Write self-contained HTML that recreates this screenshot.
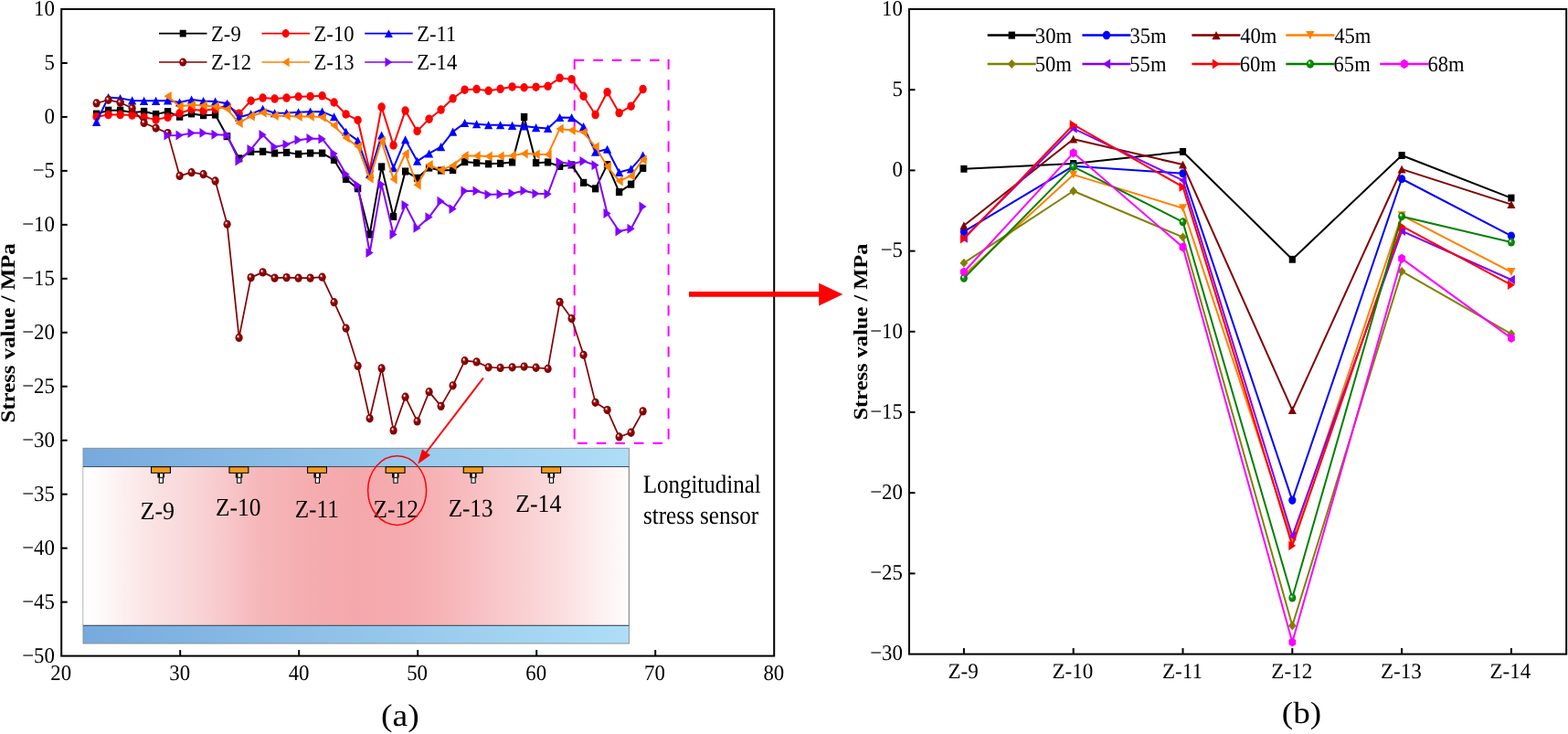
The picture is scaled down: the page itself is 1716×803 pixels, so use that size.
<!DOCTYPE html>
<html><head><meta charset="utf-8"><title>Stress value chart</title>
<style>html,body{margin:0;padding:0;background:#fff;}svg{display:block;text-rendering:geometricPrecision;}text{font-family:"Liberation Serif","Times New Roman",serif;}</style></head>
<body>
<svg width="1716" height="803" viewBox="0 0 1716 803">
<defs>
<radialGradient id="gball_800000" cx="0.5" cy="0.5" r="0.5" fx="0.33" fy="0.3"><stop offset="0" stop-color="#ffffff"/><stop offset="0.13" stop-color="#f8eeee"/><stop offset="0.38" stop-color="#a00c0c"/><stop offset="0.75" stop-color="#800000"/><stop offset="1" stop-color="#800000"/></radialGradient>
<radialGradient id="gball_008000" cx="0.5" cy="0.5" r="0.5" fx="0.33" fy="0.3"><stop offset="0" stop-color="#ffffff"/><stop offset="0.13" stop-color="#f8eeee"/><stop offset="0.38" stop-color="#159a15"/><stop offset="0.75" stop-color="#008000"/><stop offset="1" stop-color="#008000"/></radialGradient>
<linearGradient id="gbar" x1="0" y1="0" x2="1" y2="0"><stop offset="0" stop-color="#76AADD"/><stop offset="1" stop-color="#AEDEF7"/></linearGradient>
<linearGradient id="gpink" x1="0" y1="0" x2="1" y2="0"><stop offset="0.0000" stop-color="#ffffff"/><stop offset="0.0318" stop-color="#fefafa"/><stop offset="0.1172" stop-color="#fbe4e5"/><stop offset="0.1908" stop-color="#f9d8da"/><stop offset="0.2628" stop-color="#f8c7ca"/><stop offset="0.3214" stop-color="#f6b7ba"/><stop offset="0.4101" stop-color="#f5adb0"/><stop offset="0.5022" stop-color="#f4a8ac"/><stop offset="0.5892" stop-color="#f5abaf"/><stop offset="0.6779" stop-color="#f7b7ba"/><stop offset="0.7650" stop-color="#f9c8ca"/><stop offset="0.8236" stop-color="#fad3d5"/><stop offset="0.8822" stop-color="#fbdfe0"/><stop offset="0.9407" stop-color="#fdefef"/><stop offset="1.0000" stop-color="#fefcfc"/></linearGradient>
</defs>
<rect x="0" y="0" width="1716" height="803" fill="#ffffff"/>
<rect x="91.0" y="510.7" width="597.4" height="173.50000000000006" fill="url(#gpink)"/>
<line x1="90.7" y1="510.7" x2="90.7" y2="684.2" stroke="#c8c8c8" stroke-width="1.4"/>
<line x1="688.4" y1="510.7" x2="688.4" y2="684.2" stroke="#8c8c8c" stroke-width="1.2"/>
<rect x="91.0" y="490.3" width="597.4" height="20.399999999999977" fill="url(#gbar)" stroke="#8a8a8a" stroke-width="0.9"/>
<rect x="91.0" y="684.2" width="597.4" height="19.799999999999955" fill="url(#gbar)" stroke="#8a8a8a" stroke-width="0.9"/>
<line x1="91.0" y1="510.5" x2="688.4" y2="510.5" stroke="#3f5468" stroke-width="1"/>
<line x1="91.0" y1="684.4" x2="688.4" y2="684.4" stroke="#3f5468" stroke-width="1"/>
<rect x="165.00" y="510.3" width="22" height="7.6" fill="#000"/>
<rect x="166.10" y="511.3" width="19.8" height="5.6" fill="#F39A1E"/>
<rect x="172.40" y="517.9" width="7.5" height="4.8" fill="#000"/>
<rect x="175.00" y="518.2" width="3.1" height="3.6" fill="#fff"/>
<rect x="173.75" y="522.7" width="5.25" height="6.1" fill="#000"/>
<rect x="174.80" y="523.2" width="3.1" height="4.7" fill="#fff"/>
<rect x="250.40" y="510.3" width="22" height="7.6" fill="#000"/>
<rect x="251.50" y="511.3" width="19.8" height="5.6" fill="#F39A1E"/>
<rect x="257.80" y="517.9" width="7.5" height="4.8" fill="#000"/>
<rect x="260.40" y="518.2" width="3.1" height="3.6" fill="#fff"/>
<rect x="259.15" y="522.7" width="5.25" height="6.1" fill="#000"/>
<rect x="260.20" y="523.2" width="3.1" height="4.7" fill="#fff"/>
<rect x="336.00" y="510.3" width="22" height="7.6" fill="#000"/>
<rect x="337.10" y="511.3" width="19.8" height="5.6" fill="#F39A1E"/>
<rect x="343.40" y="517.9" width="7.5" height="4.8" fill="#000"/>
<rect x="346.00" y="518.2" width="3.1" height="3.6" fill="#fff"/>
<rect x="344.75" y="522.7" width="5.25" height="6.1" fill="#000"/>
<rect x="345.80" y="523.2" width="3.1" height="4.7" fill="#fff"/>
<rect x="421.60" y="510.3" width="22" height="7.6" fill="#000"/>
<rect x="422.70" y="511.3" width="19.8" height="5.6" fill="#F39A1E"/>
<rect x="429.00" y="517.9" width="7.5" height="4.8" fill="#000"/>
<rect x="431.60" y="518.2" width="3.1" height="3.6" fill="#fff"/>
<rect x="430.35" y="522.7" width="5.25" height="6.1" fill="#000"/>
<rect x="431.40" y="523.2" width="3.1" height="4.7" fill="#fff"/>
<rect x="506.70" y="510.3" width="22" height="7.6" fill="#000"/>
<rect x="507.80" y="511.3" width="19.8" height="5.6" fill="#F39A1E"/>
<rect x="514.10" y="517.9" width="7.5" height="4.8" fill="#000"/>
<rect x="516.70" y="518.2" width="3.1" height="3.6" fill="#fff"/>
<rect x="515.45" y="522.7" width="5.25" height="6.1" fill="#000"/>
<rect x="516.50" y="523.2" width="3.1" height="4.7" fill="#fff"/>
<rect x="592.10" y="510.3" width="22" height="7.6" fill="#000"/>
<rect x="593.20" y="511.3" width="19.8" height="5.6" fill="#F39A1E"/>
<rect x="599.50" y="517.9" width="7.5" height="4.8" fill="#000"/>
<rect x="602.10" y="518.2" width="3.1" height="3.6" fill="#fff"/>
<rect x="600.85" y="522.7" width="5.25" height="6.1" fill="#000"/>
<rect x="601.90" y="523.2" width="3.1" height="4.7" fill="#fff"/>
<text x="153.50" y="568.20" font-size="27.6" textLength="37.62" lengthAdjust="spacingAndGlyphs" fill="#000">Z-9</text>
<text x="236.03" y="563.60" font-size="27.6" textLength="49.46" lengthAdjust="spacingAndGlyphs" fill="#000">Z-10</text>
<text x="322.64" y="565.60" font-size="27.6" textLength="48.23" lengthAdjust="spacingAndGlyphs" fill="#000">Z-11</text>
<text x="408.53" y="566.10" font-size="27.6" textLength="49.34" lengthAdjust="spacingAndGlyphs" fill="#000">Z-12</text>
<text x="490.64" y="564.70" font-size="27.6" textLength="48.83" lengthAdjust="spacingAndGlyphs" fill="#000">Z-13</text>
<text x="564.21" y="560.10" font-size="27.6" textLength="50.15" lengthAdjust="spacingAndGlyphs" fill="#000">Z-14</text>
<text x="703.65" y="538.90" font-size="28.2" textLength="129.15" lengthAdjust="spacingAndGlyphs" fill="#000">Longitudinal</text>
<text x="703.90" y="572.70" font-size="28.2" textLength="126.29" lengthAdjust="spacingAndGlyphs" fill="#000">stress sensor</text>
<ellipse cx="434.6" cy="536.6" rx="32.0" ry="37.8" fill="none" stroke="#FF0000" stroke-width="1.5"/>
<line x1="528.9" y1="413.5" x2="464.5" y2="497.5" stroke="#FF0000" stroke-width="2"/>
<polygon points="457.2,507.8 462.0,491.6 471.0,498.0" fill="#FF0000"/>
<rect x="67.2" y="10.0" width="780.0" height="707.6" fill="none" stroke="#000" stroke-width="2"/>
<line x1="67.2" y1="658.63" x2="73.7" y2="658.63" stroke="#000" stroke-width="2"/>
<line x1="67.2" y1="599.67" x2="73.7" y2="599.67" stroke="#000" stroke-width="2"/>
<line x1="67.2" y1="540.70" x2="73.7" y2="540.70" stroke="#000" stroke-width="2"/>
<line x1="67.2" y1="481.73" x2="73.7" y2="481.73" stroke="#000" stroke-width="2"/>
<line x1="67.2" y1="422.77" x2="73.7" y2="422.77" stroke="#000" stroke-width="2"/>
<line x1="67.2" y1="363.80" x2="73.7" y2="363.80" stroke="#000" stroke-width="2"/>
<line x1="67.2" y1="304.83" x2="73.7" y2="304.83" stroke="#000" stroke-width="2"/>
<line x1="67.2" y1="245.87" x2="73.7" y2="245.87" stroke="#000" stroke-width="2"/>
<line x1="67.2" y1="186.90" x2="73.7" y2="186.90" stroke="#000" stroke-width="2"/>
<line x1="67.2" y1="127.93" x2="73.7" y2="127.93" stroke="#000" stroke-width="2"/>
<line x1="67.2" y1="68.97" x2="73.7" y2="68.97" stroke="#000" stroke-width="2"/>
<line x1="197.20" y1="717.6" x2="197.20" y2="711.1" stroke="#000" stroke-width="2"/>
<line x1="327.20" y1="717.6" x2="327.20" y2="711.1" stroke="#000" stroke-width="2"/>
<line x1="457.20" y1="717.6" x2="457.20" y2="711.1" stroke="#000" stroke-width="2"/>
<line x1="587.20" y1="717.6" x2="587.20" y2="711.1" stroke="#000" stroke-width="2"/>
<line x1="717.20" y1="717.6" x2="717.20" y2="711.1" stroke="#000" stroke-width="2"/>
<text x="37.11" y="17.00" font-size="24" textLength="22.80" lengthAdjust="spacingAndGlyphs" fill="#000">10</text>
<text x="48.51" y="75.97" font-size="24" textLength="11.40" lengthAdjust="spacingAndGlyphs" fill="#000">5</text>
<text x="48.51" y="134.93" font-size="24" textLength="11.40" lengthAdjust="spacingAndGlyphs" fill="#000">0</text>
<text x="35.63" y="193.90" font-size="24" textLength="24.26" lengthAdjust="spacingAndGlyphs" fill="#000">−5</text>
<text x="24.23" y="252.87" font-size="24" textLength="35.66" lengthAdjust="spacingAndGlyphs" fill="#000">−10</text>
<text x="24.23" y="311.83" font-size="24" textLength="35.66" lengthAdjust="spacingAndGlyphs" fill="#000">−15</text>
<text x="24.23" y="370.80" font-size="24" textLength="35.66" lengthAdjust="spacingAndGlyphs" fill="#000">−20</text>
<text x="24.23" y="429.77" font-size="24" textLength="35.66" lengthAdjust="spacingAndGlyphs" fill="#000">−25</text>
<text x="24.23" y="488.73" font-size="24" textLength="35.66" lengthAdjust="spacingAndGlyphs" fill="#000">−30</text>
<text x="24.23" y="547.70" font-size="24" textLength="35.66" lengthAdjust="spacingAndGlyphs" fill="#000">−35</text>
<text x="24.23" y="606.67" font-size="24" textLength="35.66" lengthAdjust="spacingAndGlyphs" fill="#000">−40</text>
<text x="24.23" y="665.63" font-size="24" textLength="35.66" lengthAdjust="spacingAndGlyphs" fill="#000">−45</text>
<text x="24.23" y="724.60" font-size="24" textLength="35.66" lengthAdjust="spacingAndGlyphs" fill="#000">−50</text>
<text x="55.34" y="744.20" font-size="24" textLength="22.80" lengthAdjust="spacingAndGlyphs" fill="#000">20</text>
<text x="185.29" y="744.20" font-size="24" textLength="22.80" lengthAdjust="spacingAndGlyphs" fill="#000">30</text>
<text x="315.63" y="744.20" font-size="24" textLength="22.80" lengthAdjust="spacingAndGlyphs" fill="#000">40</text>
<text x="445.17" y="744.20" font-size="24" textLength="22.80" lengthAdjust="spacingAndGlyphs" fill="#000">50</text>
<text x="575.34" y="744.20" font-size="24" textLength="22.80" lengthAdjust="spacingAndGlyphs" fill="#000">60</text>
<text x="705.12" y="744.20" font-size="24" textLength="22.80" lengthAdjust="spacingAndGlyphs" fill="#000">70</text>
<text x="835.40" y="744.20" font-size="24" textLength="22.80" lengthAdjust="spacingAndGlyphs" fill="#000">80</text>
<g stroke="#FF00FF" fill="none"><line x1="628.7" y1="65.8" x2="731.6" y2="65.8" stroke-width="2.2" stroke-dasharray="10.45 10.15"/><line x1="628.7" y1="484.8" x2="731.6" y2="484.8" stroke-width="2.2" stroke-dasharray="10.45 10.15" stroke-dashoffset="17.1"/><line x1="628.7" y1="64.7" x2="628.7" y2="484.8" stroke-width="2.0" stroke-dasharray="11.4 11.06" stroke-dashoffset="0"/><line x1="731.6" y1="64.7" x2="731.6" y2="484.8" stroke-width="2.0" stroke-dasharray="11.4 11.06" stroke-dashoffset="0"/></g>
<polyline points="105.60,124.63 118.60,120.74 131.60,120.74 144.60,123.10 157.60,121.92 170.60,124.98 183.60,122.15 196.60,127.70 209.60,124.40 222.60,126.16 235.60,125.57 248.60,149.16 261.60,173.34 274.60,165.91 287.60,165.79 300.60,167.56 313.60,166.85 326.60,168.62 339.60,167.56 352.60,167.56 365.60,174.99 378.60,195.98 391.60,206.24 404.60,256.48 417.60,182.42 430.60,236.90 443.60,187.49 456.60,194.80 469.60,183.60 482.60,186.55 495.60,186.07 508.60,177.11 521.60,178.17 534.60,179.35 547.60,178.76 560.60,177.47 573.60,127.93 586.60,178.17 599.60,177.47 612.60,181.95 625.60,180.41 638.60,199.87 651.60,206.36 664.60,180.18 677.60,210.13 690.60,201.64 703.60,183.95" fill="none" stroke="#000000" stroke-width="2.0" stroke-linejoin="round"/>
<rect x="101.93" y="120.58" width="7.34" height="8.10" fill="#000000"/>
<rect x="114.93" y="116.69" width="7.34" height="8.10" fill="#000000"/>
<rect x="127.93" y="116.69" width="7.34" height="8.10" fill="#000000"/>
<rect x="140.93" y="119.05" width="7.34" height="8.10" fill="#000000"/>
<rect x="153.93" y="117.87" width="7.34" height="8.10" fill="#000000"/>
<rect x="166.93" y="120.94" width="7.34" height="8.10" fill="#000000"/>
<rect x="179.93" y="118.10" width="7.34" height="8.10" fill="#000000"/>
<rect x="192.93" y="123.65" width="7.34" height="8.10" fill="#000000"/>
<rect x="205.93" y="120.35" width="7.34" height="8.10" fill="#000000"/>
<rect x="218.93" y="122.11" width="7.34" height="8.10" fill="#000000"/>
<rect x="231.93" y="121.52" width="7.34" height="8.10" fill="#000000"/>
<rect x="244.93" y="145.11" width="7.34" height="8.10" fill="#000000"/>
<rect x="257.93" y="169.29" width="7.34" height="8.10" fill="#000000"/>
<rect x="270.93" y="161.86" width="7.34" height="8.10" fill="#000000"/>
<rect x="283.93" y="161.74" width="7.34" height="8.10" fill="#000000"/>
<rect x="296.93" y="163.51" width="7.34" height="8.10" fill="#000000"/>
<rect x="309.93" y="162.80" width="7.34" height="8.10" fill="#000000"/>
<rect x="322.93" y="164.57" width="7.34" height="8.10" fill="#000000"/>
<rect x="335.93" y="163.51" width="7.34" height="8.10" fill="#000000"/>
<rect x="348.93" y="163.51" width="7.34" height="8.10" fill="#000000"/>
<rect x="361.93" y="170.94" width="7.34" height="8.10" fill="#000000"/>
<rect x="374.93" y="191.93" width="7.34" height="8.10" fill="#000000"/>
<rect x="387.93" y="202.19" width="7.34" height="8.10" fill="#000000"/>
<rect x="400.93" y="252.43" width="7.34" height="8.10" fill="#000000"/>
<rect x="413.93" y="178.37" width="7.34" height="8.10" fill="#000000"/>
<rect x="426.93" y="232.85" width="7.34" height="8.10" fill="#000000"/>
<rect x="439.93" y="183.44" width="7.34" height="8.10" fill="#000000"/>
<rect x="452.93" y="190.75" width="7.34" height="8.10" fill="#000000"/>
<rect x="465.93" y="179.55" width="7.34" height="8.10" fill="#000000"/>
<rect x="478.93" y="182.50" width="7.34" height="8.10" fill="#000000"/>
<rect x="491.93" y="182.02" width="7.34" height="8.10" fill="#000000"/>
<rect x="504.93" y="173.06" width="7.34" height="8.10" fill="#000000"/>
<rect x="517.93" y="174.12" width="7.34" height="8.10" fill="#000000"/>
<rect x="530.93" y="175.30" width="7.34" height="8.10" fill="#000000"/>
<rect x="543.93" y="174.71" width="7.34" height="8.10" fill="#000000"/>
<rect x="556.93" y="173.42" width="7.34" height="8.10" fill="#000000"/>
<rect x="569.93" y="123.88" width="7.34" height="8.10" fill="#000000"/>
<rect x="582.93" y="174.12" width="7.34" height="8.10" fill="#000000"/>
<rect x="595.93" y="173.42" width="7.34" height="8.10" fill="#000000"/>
<rect x="608.93" y="177.90" width="7.34" height="8.10" fill="#000000"/>
<rect x="621.93" y="176.36" width="7.34" height="8.10" fill="#000000"/>
<rect x="634.93" y="195.82" width="7.34" height="8.10" fill="#000000"/>
<rect x="647.93" y="202.31" width="7.34" height="8.10" fill="#000000"/>
<rect x="660.93" y="176.13" width="7.34" height="8.10" fill="#000000"/>
<rect x="673.93" y="206.08" width="7.34" height="8.10" fill="#000000"/>
<rect x="686.93" y="197.59" width="7.34" height="8.10" fill="#000000"/>
<rect x="699.93" y="179.90" width="7.34" height="8.10" fill="#000000"/>
<polyline points="105.60,127.70 118.60,125.57 131.60,125.57 144.60,126.05 157.60,128.29 170.60,130.88 183.60,128.29 196.60,123.81 209.60,119.68 222.60,121.09 235.60,119.32 248.60,115.43 261.60,124.16 274.60,110.24 287.60,107.06 300.60,108.12 313.60,107.06 326.60,105.76 339.60,105.41 352.60,104.82 365.60,112.01 378.60,124.98 391.60,131.47 404.60,186.90 417.60,117.08 430.60,158.95 443.60,121.09 456.60,143.38 469.60,130.17 482.60,120.03 495.60,107.77 508.60,98.21 521.60,97.62 534.60,99.28 547.60,97.27 560.60,94.91 573.60,95.74 586.60,95.15 599.60,94.32 612.60,85.36 625.60,86.66 638.60,105.17 651.60,125.57 664.60,100.81 677.60,123.57 690.60,116.14 703.60,97.62" fill="none" stroke="#FF0000" stroke-width="2.0" stroke-linejoin="round"/>
<ellipse cx="105.60" cy="127.70" rx="4.21" ry="4.75" fill="#FF0000"/>
<ellipse cx="118.60" cy="125.57" rx="4.21" ry="4.75" fill="#FF0000"/>
<ellipse cx="131.60" cy="125.57" rx="4.21" ry="4.75" fill="#FF0000"/>
<ellipse cx="144.60" cy="126.05" rx="4.21" ry="4.75" fill="#FF0000"/>
<ellipse cx="157.60" cy="128.29" rx="4.21" ry="4.75" fill="#FF0000"/>
<ellipse cx="170.60" cy="130.88" rx="4.21" ry="4.75" fill="#FF0000"/>
<ellipse cx="183.60" cy="128.29" rx="4.21" ry="4.75" fill="#FF0000"/>
<ellipse cx="196.60" cy="123.81" rx="4.21" ry="4.75" fill="#FF0000"/>
<ellipse cx="209.60" cy="119.68" rx="4.21" ry="4.75" fill="#FF0000"/>
<ellipse cx="222.60" cy="121.09" rx="4.21" ry="4.75" fill="#FF0000"/>
<ellipse cx="235.60" cy="119.32" rx="4.21" ry="4.75" fill="#FF0000"/>
<ellipse cx="248.60" cy="115.43" rx="4.21" ry="4.75" fill="#FF0000"/>
<ellipse cx="261.60" cy="124.16" rx="4.21" ry="4.75" fill="#FF0000"/>
<ellipse cx="274.60" cy="110.24" rx="4.21" ry="4.75" fill="#FF0000"/>
<ellipse cx="287.60" cy="107.06" rx="4.21" ry="4.75" fill="#FF0000"/>
<ellipse cx="300.60" cy="108.12" rx="4.21" ry="4.75" fill="#FF0000"/>
<ellipse cx="313.60" cy="107.06" rx="4.21" ry="4.75" fill="#FF0000"/>
<ellipse cx="326.60" cy="105.76" rx="4.21" ry="4.75" fill="#FF0000"/>
<ellipse cx="339.60" cy="105.41" rx="4.21" ry="4.75" fill="#FF0000"/>
<ellipse cx="352.60" cy="104.82" rx="4.21" ry="4.75" fill="#FF0000"/>
<ellipse cx="365.60" cy="112.01" rx="4.21" ry="4.75" fill="#FF0000"/>
<ellipse cx="378.60" cy="124.98" rx="4.21" ry="4.75" fill="#FF0000"/>
<ellipse cx="391.60" cy="131.47" rx="4.21" ry="4.75" fill="#FF0000"/>
<ellipse cx="404.60" cy="186.90" rx="4.21" ry="4.75" fill="#FF0000"/>
<ellipse cx="417.60" cy="117.08" rx="4.21" ry="4.75" fill="#FF0000"/>
<ellipse cx="430.60" cy="158.95" rx="4.21" ry="4.75" fill="#FF0000"/>
<ellipse cx="443.60" cy="121.09" rx="4.21" ry="4.75" fill="#FF0000"/>
<ellipse cx="456.60" cy="143.38" rx="4.21" ry="4.75" fill="#FF0000"/>
<ellipse cx="469.60" cy="130.17" rx="4.21" ry="4.75" fill="#FF0000"/>
<ellipse cx="482.60" cy="120.03" rx="4.21" ry="4.75" fill="#FF0000"/>
<ellipse cx="495.60" cy="107.77" rx="4.21" ry="4.75" fill="#FF0000"/>
<ellipse cx="508.60" cy="98.21" rx="4.21" ry="4.75" fill="#FF0000"/>
<ellipse cx="521.60" cy="97.62" rx="4.21" ry="4.75" fill="#FF0000"/>
<ellipse cx="534.60" cy="99.28" rx="4.21" ry="4.75" fill="#FF0000"/>
<ellipse cx="547.60" cy="97.27" rx="4.21" ry="4.75" fill="#FF0000"/>
<ellipse cx="560.60" cy="94.91" rx="4.21" ry="4.75" fill="#FF0000"/>
<ellipse cx="573.60" cy="95.74" rx="4.21" ry="4.75" fill="#FF0000"/>
<ellipse cx="586.60" cy="95.15" rx="4.21" ry="4.75" fill="#FF0000"/>
<ellipse cx="599.60" cy="94.32" rx="4.21" ry="4.75" fill="#FF0000"/>
<ellipse cx="612.60" cy="85.36" rx="4.21" ry="4.75" fill="#FF0000"/>
<ellipse cx="625.60" cy="86.66" rx="4.21" ry="4.75" fill="#FF0000"/>
<ellipse cx="638.60" cy="105.17" rx="4.21" ry="4.75" fill="#FF0000"/>
<ellipse cx="651.60" cy="125.57" rx="4.21" ry="4.75" fill="#FF0000"/>
<ellipse cx="664.60" cy="100.81" rx="4.21" ry="4.75" fill="#FF0000"/>
<ellipse cx="677.60" cy="123.57" rx="4.21" ry="4.75" fill="#FF0000"/>
<ellipse cx="690.60" cy="116.14" rx="4.21" ry="4.75" fill="#FF0000"/>
<ellipse cx="703.60" cy="97.62" rx="4.21" ry="4.75" fill="#FF0000"/>
<polyline points="105.60,133.36 118.60,106.47 131.60,107.53 144.60,109.89 157.60,110.36 170.60,110.36 183.60,109.89 196.60,112.01 209.60,109.06 222.60,110.48 235.60,110.95 248.60,113.19 261.60,128.29 274.60,124.75 287.60,119.32 300.60,123.81 313.60,123.57 326.60,122.74 339.60,122.15 352.60,122.15 365.60,127.70 378.60,144.21 391.60,153.88 404.60,190.44 417.60,147.98 430.60,183.60 443.60,152.70 456.60,176.29 469.60,167.91 482.60,160.60 495.60,144.09 508.60,134.54 521.60,135.72 534.60,136.78 547.60,136.78 560.60,137.37 573.60,138.08 586.60,139.61 599.60,140.55 612.60,128.52 625.60,128.64 638.60,138.43 651.60,166.26 664.60,163.31 677.60,188.55 690.60,184.90 703.60,170.04" fill="none" stroke="#0000FF" stroke-width="2.0" stroke-linejoin="round"/>
<polygon points="105.60,128.82 110.24,137.89 100.96,137.89" fill="#0000FF"/>
<polygon points="118.60,101.93 123.24,111.01 113.96,111.01" fill="#0000FF"/>
<polygon points="131.60,102.99 136.24,112.07 126.96,112.07" fill="#0000FF"/>
<polygon points="144.60,105.35 149.24,114.43 139.96,114.43" fill="#0000FF"/>
<polygon points="157.60,105.83 162.24,114.90 152.96,114.90" fill="#0000FF"/>
<polygon points="170.60,105.83 175.24,114.90 165.96,114.90" fill="#0000FF"/>
<polygon points="183.60,105.35 188.24,114.43 178.96,114.43" fill="#0000FF"/>
<polygon points="196.60,107.48 201.24,116.55 191.96,116.55" fill="#0000FF"/>
<polygon points="209.60,104.53 214.24,113.60 204.96,113.60" fill="#0000FF"/>
<polygon points="222.60,105.94 227.24,115.02 217.96,115.02" fill="#0000FF"/>
<polygon points="235.60,106.41 240.24,115.49 230.96,115.49" fill="#0000FF"/>
<polygon points="248.60,108.66 253.24,117.73 243.96,117.73" fill="#0000FF"/>
<polygon points="261.60,123.75 266.24,132.82 256.96,132.82" fill="#0000FF"/>
<polygon points="274.60,120.21 279.24,129.29 269.96,129.29" fill="#0000FF"/>
<polygon points="287.60,114.79 292.24,123.86 282.96,123.86" fill="#0000FF"/>
<polygon points="300.60,119.27 305.24,128.34 295.96,128.34" fill="#0000FF"/>
<polygon points="313.60,119.03 318.24,128.11 308.96,128.11" fill="#0000FF"/>
<polygon points="326.60,118.21 331.24,127.28 321.96,127.28" fill="#0000FF"/>
<polygon points="339.60,117.62 344.24,126.69 334.96,126.69" fill="#0000FF"/>
<polygon points="352.60,117.62 357.24,126.69 347.96,126.69" fill="#0000FF"/>
<polygon points="365.60,123.16 370.24,132.23 360.96,132.23" fill="#0000FF"/>
<polygon points="378.60,139.67 383.24,148.74 373.96,148.74" fill="#0000FF"/>
<polygon points="391.60,149.34 396.24,158.41 386.96,158.41" fill="#0000FF"/>
<polygon points="404.60,185.90 409.24,194.97 399.96,194.97" fill="#0000FF"/>
<polygon points="417.60,143.45 422.24,152.52 412.96,152.52" fill="#0000FF"/>
<polygon points="430.60,179.06 435.24,188.13 425.96,188.13" fill="#0000FF"/>
<polygon points="443.60,148.16 448.24,157.24 438.96,157.24" fill="#0000FF"/>
<polygon points="456.60,171.75 461.24,180.82 451.96,180.82" fill="#0000FF"/>
<polygon points="469.60,163.38 474.24,172.45 464.96,172.45" fill="#0000FF"/>
<polygon points="482.60,156.06 487.24,165.14 477.96,165.14" fill="#0000FF"/>
<polygon points="495.60,139.55 500.24,148.63 490.96,148.63" fill="#0000FF"/>
<polygon points="508.60,130.00 513.24,139.07 503.96,139.07" fill="#0000FF"/>
<polygon points="521.60,131.18 526.24,140.25 516.96,140.25" fill="#0000FF"/>
<polygon points="534.60,132.24 539.24,141.31 529.96,141.31" fill="#0000FF"/>
<polygon points="547.60,132.24 552.24,141.31 542.96,141.31" fill="#0000FF"/>
<polygon points="560.60,132.83 565.24,141.90 555.96,141.90" fill="#0000FF"/>
<polygon points="573.60,133.54 578.24,142.61 568.96,142.61" fill="#0000FF"/>
<polygon points="586.60,135.07 591.24,144.14 581.96,144.14" fill="#0000FF"/>
<polygon points="599.60,136.02 604.24,145.09 594.96,145.09" fill="#0000FF"/>
<polygon points="612.60,123.99 617.24,133.06 607.96,133.06" fill="#0000FF"/>
<polygon points="625.60,124.10 630.24,133.18 620.96,133.18" fill="#0000FF"/>
<polygon points="638.60,133.89 643.24,142.97 633.96,142.97" fill="#0000FF"/>
<polygon points="651.60,161.73 656.24,170.80 646.96,170.80" fill="#0000FF"/>
<polygon points="664.60,158.78 669.24,167.85 659.96,167.85" fill="#0000FF"/>
<polygon points="677.60,184.02 682.24,193.09 672.96,193.09" fill="#0000FF"/>
<polygon points="690.60,180.36 695.24,189.43 685.96,189.43" fill="#0000FF"/>
<polygon points="703.60,165.50 708.24,174.57 698.96,174.57" fill="#0000FF"/>
<polyline points="105.60,112.96 118.60,109.30 131.60,112.25 144.60,118.26 157.60,134.42 170.60,140.08 183.60,145.62 196.60,192.44 209.60,188.67 222.60,190.67 235.60,197.99 248.60,245.28 261.60,369.46 274.60,303.65 287.60,297.88 300.60,304.13 313.60,303.65 326.60,304.13 339.60,304.13 352.60,303.18 365.60,330.66 378.60,359.08 391.60,400.36 404.60,457.79 417.60,402.95 430.60,470.88 443.60,434.21 456.60,460.98 469.60,428.66 482.60,444.35 495.60,421.82 508.60,394.70 521.60,395.88 534.60,401.77 547.60,402.48 560.60,401.77 573.60,401.07 586.60,402.25 599.60,403.43 612.60,330.42 625.60,348.59 638.60,388.33 651.60,440.34 664.60,448.59 677.60,477.96 690.60,473.24 703.60,449.89" fill="none" stroke="#800000" stroke-width="1.7" stroke-linejoin="round"/>
<ellipse cx="105.60" cy="112.96" rx="4.10" ry="4.64" fill="url(#gball_800000)"/>
<ellipse cx="118.60" cy="109.30" rx="4.10" ry="4.64" fill="url(#gball_800000)"/>
<ellipse cx="131.60" cy="112.25" rx="4.10" ry="4.64" fill="url(#gball_800000)"/>
<ellipse cx="144.60" cy="118.26" rx="4.10" ry="4.64" fill="url(#gball_800000)"/>
<ellipse cx="157.60" cy="134.42" rx="4.10" ry="4.64" fill="url(#gball_800000)"/>
<ellipse cx="170.60" cy="140.08" rx="4.10" ry="4.64" fill="url(#gball_800000)"/>
<ellipse cx="183.60" cy="145.62" rx="4.10" ry="4.64" fill="url(#gball_800000)"/>
<ellipse cx="196.60" cy="192.44" rx="4.10" ry="4.64" fill="url(#gball_800000)"/>
<ellipse cx="209.60" cy="188.67" rx="4.10" ry="4.64" fill="url(#gball_800000)"/>
<ellipse cx="222.60" cy="190.67" rx="4.10" ry="4.64" fill="url(#gball_800000)"/>
<ellipse cx="235.60" cy="197.99" rx="4.10" ry="4.64" fill="url(#gball_800000)"/>
<ellipse cx="248.60" cy="245.28" rx="4.10" ry="4.64" fill="url(#gball_800000)"/>
<ellipse cx="261.60" cy="369.46" rx="4.10" ry="4.64" fill="url(#gball_800000)"/>
<ellipse cx="274.60" cy="303.65" rx="4.10" ry="4.64" fill="url(#gball_800000)"/>
<ellipse cx="287.60" cy="297.88" rx="4.10" ry="4.64" fill="url(#gball_800000)"/>
<ellipse cx="300.60" cy="304.13" rx="4.10" ry="4.64" fill="url(#gball_800000)"/>
<ellipse cx="313.60" cy="303.65" rx="4.10" ry="4.64" fill="url(#gball_800000)"/>
<ellipse cx="326.60" cy="304.13" rx="4.10" ry="4.64" fill="url(#gball_800000)"/>
<ellipse cx="339.60" cy="304.13" rx="4.10" ry="4.64" fill="url(#gball_800000)"/>
<ellipse cx="352.60" cy="303.18" rx="4.10" ry="4.64" fill="url(#gball_800000)"/>
<ellipse cx="365.60" cy="330.66" rx="4.10" ry="4.64" fill="url(#gball_800000)"/>
<ellipse cx="378.60" cy="359.08" rx="4.10" ry="4.64" fill="url(#gball_800000)"/>
<ellipse cx="391.60" cy="400.36" rx="4.10" ry="4.64" fill="url(#gball_800000)"/>
<ellipse cx="404.60" cy="457.79" rx="4.10" ry="4.64" fill="url(#gball_800000)"/>
<ellipse cx="417.60" cy="402.95" rx="4.10" ry="4.64" fill="url(#gball_800000)"/>
<ellipse cx="430.60" cy="470.88" rx="4.10" ry="4.64" fill="url(#gball_800000)"/>
<ellipse cx="443.60" cy="434.21" rx="4.10" ry="4.64" fill="url(#gball_800000)"/>
<ellipse cx="456.60" cy="460.98" rx="4.10" ry="4.64" fill="url(#gball_800000)"/>
<ellipse cx="469.60" cy="428.66" rx="4.10" ry="4.64" fill="url(#gball_800000)"/>
<ellipse cx="482.60" cy="444.35" rx="4.10" ry="4.64" fill="url(#gball_800000)"/>
<ellipse cx="495.60" cy="421.82" rx="4.10" ry="4.64" fill="url(#gball_800000)"/>
<ellipse cx="508.60" cy="394.70" rx="4.10" ry="4.64" fill="url(#gball_800000)"/>
<ellipse cx="521.60" cy="395.88" rx="4.10" ry="4.64" fill="url(#gball_800000)"/>
<ellipse cx="534.60" cy="401.77" rx="4.10" ry="4.64" fill="url(#gball_800000)"/>
<ellipse cx="547.60" cy="402.48" rx="4.10" ry="4.64" fill="url(#gball_800000)"/>
<ellipse cx="560.60" cy="401.77" rx="4.10" ry="4.64" fill="url(#gball_800000)"/>
<ellipse cx="573.60" cy="401.07" rx="4.10" ry="4.64" fill="url(#gball_800000)"/>
<ellipse cx="586.60" cy="402.25" rx="4.10" ry="4.64" fill="url(#gball_800000)"/>
<ellipse cx="599.60" cy="403.43" rx="4.10" ry="4.64" fill="url(#gball_800000)"/>
<ellipse cx="612.60" cy="330.42" rx="4.10" ry="4.64" fill="url(#gball_800000)"/>
<ellipse cx="625.60" cy="348.59" rx="4.10" ry="4.64" fill="url(#gball_800000)"/>
<ellipse cx="638.60" cy="388.33" rx="4.10" ry="4.64" fill="url(#gball_800000)"/>
<ellipse cx="651.60" cy="440.34" rx="4.10" ry="4.64" fill="url(#gball_800000)"/>
<ellipse cx="664.60" cy="448.59" rx="4.10" ry="4.64" fill="url(#gball_800000)"/>
<ellipse cx="677.60" cy="477.96" rx="4.10" ry="4.64" fill="url(#gball_800000)"/>
<ellipse cx="690.60" cy="473.24" rx="4.10" ry="4.64" fill="url(#gball_800000)"/>
<ellipse cx="703.60" cy="449.89" rx="4.10" ry="4.64" fill="url(#gball_800000)"/>
<polyline points="183.60,105.29 196.60,116.49 209.60,114.84 222.60,115.43 235.60,116.49 248.60,119.32 261.60,134.66 274.60,126.99 287.60,123.33 300.60,126.64 313.60,126.64 326.60,127.70 339.60,127.23 352.60,128.29 365.60,137.37 378.60,150.93 391.60,160.36 404.60,195.16 417.60,154.11 430.60,196.10 443.60,168.27 456.60,202.35 469.60,180.30 482.60,186.07 495.60,181.00 508.60,170.39 521.60,170.39 534.60,170.98 547.60,170.86 560.60,170.15 573.60,168.03 586.60,168.86 599.60,169.09 612.60,140.91 625.60,142.56 638.60,144.80 651.60,160.60 664.60,182.06 677.60,197.99 690.60,192.44 703.60,174.63" fill="none" stroke="#FF8000" stroke-width="2.0" stroke-linejoin="round"/>
<polygon points="179.50,105.29 187.70,99.89 187.70,110.69" fill="#FF8000"/>
<polygon points="192.50,116.49 200.70,111.09 200.70,121.89" fill="#FF8000"/>
<polygon points="205.50,114.84 213.70,109.44 213.70,120.24" fill="#FF8000"/>
<polygon points="218.50,115.43 226.70,110.03 226.70,120.83" fill="#FF8000"/>
<polygon points="231.50,116.49 239.70,111.09 239.70,121.89" fill="#FF8000"/>
<polygon points="244.50,119.32 252.70,113.92 252.70,124.72" fill="#FF8000"/>
<polygon points="257.50,134.66 265.70,129.26 265.70,140.06" fill="#FF8000"/>
<polygon points="270.50,126.99 278.70,121.59 278.70,132.39" fill="#FF8000"/>
<polygon points="283.50,123.33 291.70,117.93 291.70,128.73" fill="#FF8000"/>
<polygon points="296.50,126.64 304.70,121.24 304.70,132.04" fill="#FF8000"/>
<polygon points="309.50,126.64 317.70,121.24 317.70,132.04" fill="#FF8000"/>
<polygon points="322.50,127.70 330.70,122.30 330.70,133.10" fill="#FF8000"/>
<polygon points="335.50,127.23 343.70,121.83 343.70,132.63" fill="#FF8000"/>
<polygon points="348.50,128.29 356.70,122.89 356.70,133.69" fill="#FF8000"/>
<polygon points="361.50,137.37 369.70,131.97 369.70,142.77" fill="#FF8000"/>
<polygon points="374.50,150.93 382.70,145.53 382.70,156.33" fill="#FF8000"/>
<polygon points="387.50,160.36 395.70,154.96 395.70,165.76" fill="#FF8000"/>
<polygon points="400.50,195.16 408.70,189.76 408.70,200.56" fill="#FF8000"/>
<polygon points="413.50,154.11 421.70,148.71 421.70,159.51" fill="#FF8000"/>
<polygon points="426.50,196.10 434.70,190.70 434.70,201.50" fill="#FF8000"/>
<polygon points="439.50,168.27 447.70,162.87 447.70,173.67" fill="#FF8000"/>
<polygon points="452.50,202.35 460.70,196.95 460.70,207.75" fill="#FF8000"/>
<polygon points="465.50,180.30 473.70,174.90 473.70,185.70" fill="#FF8000"/>
<polygon points="478.50,186.07 486.70,180.67 486.70,191.47" fill="#FF8000"/>
<polygon points="491.50,181.00 499.70,175.60 499.70,186.40" fill="#FF8000"/>
<polygon points="504.50,170.39 512.70,164.99 512.70,175.79" fill="#FF8000"/>
<polygon points="517.50,170.39 525.70,164.99 525.70,175.79" fill="#FF8000"/>
<polygon points="530.50,170.98 538.70,165.58 538.70,176.38" fill="#FF8000"/>
<polygon points="543.50,170.86 551.70,165.46 551.70,176.26" fill="#FF8000"/>
<polygon points="556.50,170.15 564.70,164.75 564.70,175.55" fill="#FF8000"/>
<polygon points="569.50,168.03 577.70,162.63 577.70,173.43" fill="#FF8000"/>
<polygon points="582.50,168.86 590.70,163.46 590.70,174.26" fill="#FF8000"/>
<polygon points="595.50,169.09 603.70,163.69 603.70,174.49" fill="#FF8000"/>
<polygon points="608.50,140.91 616.70,135.51 616.70,146.31" fill="#FF8000"/>
<polygon points="621.50,142.56 629.70,137.16 629.70,147.96" fill="#FF8000"/>
<polygon points="634.50,144.80 642.70,139.40 642.70,150.20" fill="#FF8000"/>
<polygon points="647.50,160.60 655.70,155.20 655.70,166.00" fill="#FF8000"/>
<polygon points="660.50,182.06 668.70,176.66 668.70,187.46" fill="#FF8000"/>
<polygon points="673.50,197.99 681.70,192.59 681.70,203.39" fill="#FF8000"/>
<polygon points="686.50,192.44 694.70,187.04 694.70,197.84" fill="#FF8000"/>
<polygon points="699.50,174.63 707.70,169.23 707.70,180.03" fill="#FF8000"/>
<polyline points="183.60,148.22 196.60,147.98 209.60,145.62 222.60,145.39 235.60,147.27 248.60,147.75 261.60,176.05 274.60,163.31 287.60,147.51 300.60,160.72 313.60,158.12 326.60,153.17 339.60,151.52 352.60,151.99 365.60,168.03 378.60,190.44 391.60,202.70 404.60,276.53 417.60,201.64 430.60,256.48 443.60,224.28 456.60,249.40 469.60,237.61 482.60,220.16 495.60,228.53 508.60,208.95 521.60,208.95 534.60,212.85 547.60,212.49 560.60,211.55 573.60,208.72 586.60,211.78 599.60,212.26 612.60,177.35 625.60,179.59 638.60,176.29 651.60,180.77 664.60,233.48 677.60,253.06 690.60,250.23 703.60,225.94" fill="none" stroke="#8000FF" stroke-width="2.0" stroke-linejoin="round"/>
<polygon points="187.70,148.22 179.50,142.82 179.50,153.62" fill="#8000FF"/>
<polygon points="200.70,147.98 192.50,142.58 192.50,153.38" fill="#8000FF"/>
<polygon points="213.70,145.62 205.50,140.22 205.50,151.02" fill="#8000FF"/>
<polygon points="226.70,145.39 218.50,139.99 218.50,150.79" fill="#8000FF"/>
<polygon points="239.70,147.27 231.50,141.87 231.50,152.67" fill="#8000FF"/>
<polygon points="252.70,147.75 244.50,142.35 244.50,153.15" fill="#8000FF"/>
<polygon points="265.70,176.05 257.50,170.65 257.50,181.45" fill="#8000FF"/>
<polygon points="278.70,163.31 270.50,157.91 270.50,168.71" fill="#8000FF"/>
<polygon points="291.70,147.51 283.50,142.11 283.50,152.91" fill="#8000FF"/>
<polygon points="304.70,160.72 296.50,155.32 296.50,166.12" fill="#8000FF"/>
<polygon points="317.70,158.12 309.50,152.72 309.50,163.52" fill="#8000FF"/>
<polygon points="330.70,153.17 322.50,147.77 322.50,158.57" fill="#8000FF"/>
<polygon points="343.70,151.52 335.50,146.12 335.50,156.92" fill="#8000FF"/>
<polygon points="356.70,151.99 348.50,146.59 348.50,157.39" fill="#8000FF"/>
<polygon points="369.70,168.03 361.50,162.63 361.50,173.43" fill="#8000FF"/>
<polygon points="382.70,190.44 374.50,185.04 374.50,195.84" fill="#8000FF"/>
<polygon points="395.70,202.70 387.50,197.30 387.50,208.10" fill="#8000FF"/>
<polygon points="408.70,276.53 400.50,271.13 400.50,281.93" fill="#8000FF"/>
<polygon points="421.70,201.64 413.50,196.24 413.50,207.04" fill="#8000FF"/>
<polygon points="434.70,256.48 426.50,251.08 426.50,261.88" fill="#8000FF"/>
<polygon points="447.70,224.28 439.50,218.88 439.50,229.68" fill="#8000FF"/>
<polygon points="460.70,249.40 452.50,244.00 452.50,254.80" fill="#8000FF"/>
<polygon points="473.70,237.61 465.50,232.21 465.50,243.01" fill="#8000FF"/>
<polygon points="486.70,220.16 478.50,214.76 478.50,225.56" fill="#8000FF"/>
<polygon points="499.70,228.53 491.50,223.13 491.50,233.93" fill="#8000FF"/>
<polygon points="512.70,208.95 504.50,203.55 504.50,214.35" fill="#8000FF"/>
<polygon points="525.70,208.95 517.50,203.55 517.50,214.35" fill="#8000FF"/>
<polygon points="538.70,212.85 530.50,207.45 530.50,218.25" fill="#8000FF"/>
<polygon points="551.70,212.49 543.50,207.09 543.50,217.89" fill="#8000FF"/>
<polygon points="564.70,211.55 556.50,206.15 556.50,216.95" fill="#8000FF"/>
<polygon points="577.70,208.72 569.50,203.32 569.50,214.12" fill="#8000FF"/>
<polygon points="590.70,211.78 582.50,206.38 582.50,217.18" fill="#8000FF"/>
<polygon points="603.70,212.26 595.50,206.86 595.50,217.66" fill="#8000FF"/>
<polygon points="616.70,177.35 608.50,171.95 608.50,182.75" fill="#8000FF"/>
<polygon points="629.70,179.59 621.50,174.19 621.50,184.99" fill="#8000FF"/>
<polygon points="642.70,176.29 634.50,170.89 634.50,181.69" fill="#8000FF"/>
<polygon points="655.70,180.77 647.50,175.37 647.50,186.17" fill="#8000FF"/>
<polygon points="668.70,233.48 660.50,228.08 660.50,238.88" fill="#8000FF"/>
<polygon points="681.70,253.06 673.50,247.66 673.50,258.46" fill="#8000FF"/>
<polygon points="694.70,250.23 686.50,244.83 686.50,255.63" fill="#8000FF"/>
<polygon points="707.70,225.94 699.50,220.54 699.50,231.34" fill="#8000FF"/>
<line x1="174.0" y1="36.6" x2="226.5" y2="36.6" stroke="#000000" stroke-width="1.6"/>
<rect x="196.70" y="32.74" width="7.00" height="7.73" fill="#000000"/>
<text x="231.07" y="44.90" font-size="24.3" textLength="32.63" lengthAdjust="spacingAndGlyphs" fill="#000">Z-9</text>
<line x1="286.5" y1="36.6" x2="339.0" y2="36.6" stroke="#FF0000" stroke-width="1.6"/>
<ellipse cx="312.70" cy="36.60" rx="4.02" ry="4.53" fill="#FF0000"/>
<text x="343.57" y="44.90" font-size="24.3" textLength="43.93" lengthAdjust="spacingAndGlyphs" fill="#000">Z-10</text>
<line x1="399.2" y1="36.6" x2="451.7" y2="36.6" stroke="#0000FF" stroke-width="1.6"/>
<polygon points="425.40,32.27 429.83,40.93 420.97,40.93" fill="#0000FF"/>
<text x="456.27" y="44.90" font-size="24.3" textLength="43.09" lengthAdjust="spacingAndGlyphs" fill="#000">Z-11</text>
<line x1="174.0" y1="68.0" x2="226.5" y2="68.0" stroke="#800000" stroke-width="1.6"/>
<ellipse cx="200.20" cy="68.00" rx="3.91" ry="4.43" fill="url(#gball_800000)"/>
<text x="231.07" y="76.30" font-size="24.3" textLength="43.93" lengthAdjust="spacingAndGlyphs" fill="#000">Z-12</text>
<line x1="286.5" y1="68.0" x2="339.0" y2="68.0" stroke="#FF8000" stroke-width="1.6"/>
<polygon points="308.79,68.00 316.61,62.85 316.61,73.15" fill="#FF8000"/>
<text x="343.57" y="76.30" font-size="24.3" textLength="43.93" lengthAdjust="spacingAndGlyphs" fill="#000">Z-13</text>
<line x1="399.2" y1="68.0" x2="451.7" y2="68.0" stroke="#8000FF" stroke-width="1.6"/>
<polygon points="429.31,68.00 421.49,62.85 421.49,73.15" fill="#8000FF"/>
<text x="456.27" y="76.30" font-size="24.3" textLength="43.93" lengthAdjust="spacingAndGlyphs" fill="#000">Z-14</text>
<text transform="translate(15.9,462.5) scale(0.89,1) rotate(-90)" font-size="24.9" font-weight="bold" textLength="196.2" lengthAdjust="spacingAndGlyphs">Stress value / MPa</text>
<text x="416.91" y="794.00" font-size="34.2" textLength="41.79" lengthAdjust="spacingAndGlyphs" fill="#000">(a)</text>
<line x1="754" y1="321.8" x2="897" y2="321.8" stroke="#FF0000" stroke-width="5.8"/>
<polygon points="896.2,309.8 922.4,322.0 896.2,334.6" fill="#FF0000"/>
<rect x="995.0" y="10.0" width="719.2" height="705.6" fill="none" stroke="#000" stroke-width="2"/>
<line x1="995.0" y1="627.40" x2="1001.5" y2="627.40" stroke="#000" stroke-width="2"/>
<line x1="995.0" y1="539.20" x2="1001.5" y2="539.20" stroke="#000" stroke-width="2"/>
<line x1="995.0" y1="451.00" x2="1001.5" y2="451.00" stroke="#000" stroke-width="2"/>
<line x1="995.0" y1="362.80" x2="1001.5" y2="362.80" stroke="#000" stroke-width="2"/>
<line x1="995.0" y1="274.60" x2="1001.5" y2="274.60" stroke="#000" stroke-width="2"/>
<line x1="995.0" y1="186.40" x2="1001.5" y2="186.40" stroke="#000" stroke-width="2"/>
<line x1="995.0" y1="98.20" x2="1001.5" y2="98.20" stroke="#000" stroke-width="2"/>
<line x1="1054.90" y1="715.6" x2="1054.90" y2="709.1" stroke="#000" stroke-width="2"/>
<line x1="1174.70" y1="715.6" x2="1174.70" y2="709.1" stroke="#000" stroke-width="2"/>
<line x1="1294.50" y1="715.6" x2="1294.50" y2="709.1" stroke="#000" stroke-width="2"/>
<line x1="1414.30" y1="715.6" x2="1414.30" y2="709.1" stroke="#000" stroke-width="2"/>
<line x1="1534.10" y1="715.6" x2="1534.10" y2="709.1" stroke="#000" stroke-width="2"/>
<line x1="1653.90" y1="715.6" x2="1653.90" y2="709.1" stroke="#000" stroke-width="2"/>
<text x="965.11" y="16.80" font-size="24" textLength="22.80" lengthAdjust="spacingAndGlyphs" fill="#000">10</text>
<text x="976.51" y="105.00" font-size="24" textLength="11.40" lengthAdjust="spacingAndGlyphs" fill="#000">5</text>
<text x="976.51" y="193.20" font-size="24" textLength="11.40" lengthAdjust="spacingAndGlyphs" fill="#000">0</text>
<text x="963.63" y="281.40" font-size="24" textLength="24.26" lengthAdjust="spacingAndGlyphs" fill="#000">−5</text>
<text x="952.23" y="369.60" font-size="24" textLength="35.66" lengthAdjust="spacingAndGlyphs" fill="#000">−10</text>
<text x="952.23" y="457.80" font-size="24" textLength="35.66" lengthAdjust="spacingAndGlyphs" fill="#000">−15</text>
<text x="952.23" y="546.00" font-size="24" textLength="35.66" lengthAdjust="spacingAndGlyphs" fill="#000">−20</text>
<text x="952.23" y="634.20" font-size="24" textLength="35.66" lengthAdjust="spacingAndGlyphs" fill="#000">−25</text>
<text x="952.23" y="722.40" font-size="24" textLength="35.66" lengthAdjust="spacingAndGlyphs" fill="#000">−30</text>
<text x="1037.50" y="741.90" font-size="23.8" textLength="33.33" lengthAdjust="spacingAndGlyphs" fill="#000">Z-9</text>
<text x="1151.53" y="741.90" font-size="23.8" textLength="44.88" lengthAdjust="spacingAndGlyphs" fill="#000">Z-10</text>
<text x="1272.03" y="741.90" font-size="23.8" textLength="44.02" lengthAdjust="spacingAndGlyphs" fill="#000">Z-11</text>
<text x="1391.31" y="741.90" font-size="23.8" textLength="44.88" lengthAdjust="spacingAndGlyphs" fill="#000">Z-12</text>
<text x="1510.93" y="741.90" font-size="23.8" textLength="44.88" lengthAdjust="spacingAndGlyphs" fill="#000">Z-13</text>
<text x="1630.44" y="741.90" font-size="23.8" textLength="44.88" lengthAdjust="spacingAndGlyphs" fill="#000">Z-14</text>
<polyline points="1054.90,184.81 1174.70,178.99 1294.50,165.94 1414.30,283.77 1534.10,169.99 1653.90,216.56" fill="none" stroke="#000000" stroke-width="2.0" stroke-linejoin="round"/>
<rect x="1051.33" y="180.87" width="7.14" height="7.88" fill="#000000"/>
<rect x="1171.13" y="175.05" width="7.14" height="7.88" fill="#000000"/>
<rect x="1290.93" y="162.00" width="7.14" height="7.88" fill="#000000"/>
<rect x="1410.73" y="279.84" width="7.14" height="7.88" fill="#000000"/>
<rect x="1530.53" y="166.06" width="7.14" height="7.88" fill="#000000"/>
<rect x="1650.33" y="212.63" width="7.14" height="7.88" fill="#000000"/>
<polyline points="1054.90,253.43 1174.70,181.64 1294.50,189.75 1414.30,547.31 1534.10,195.75 1653.90,258.02" fill="none" stroke="#0000FF" stroke-width="2.0" stroke-linejoin="round"/>
<ellipse cx="1054.90" cy="253.43" rx="4.09" ry="4.62" fill="#0000FF"/>
<ellipse cx="1174.70" cy="181.64" rx="4.09" ry="4.62" fill="#0000FF"/>
<ellipse cx="1294.50" cy="189.75" rx="4.09" ry="4.62" fill="#0000FF"/>
<ellipse cx="1414.30" cy="547.31" rx="4.09" ry="4.62" fill="#0000FF"/>
<ellipse cx="1534.10" cy="195.75" rx="4.09" ry="4.62" fill="#0000FF"/>
<ellipse cx="1653.90" cy="258.02" rx="4.09" ry="4.62" fill="#0000FF"/>
<polyline points="1054.90,246.73 1174.70,152.18 1294.50,180.05 1414.30,448.71 1534.10,185.17 1653.90,223.62" fill="none" stroke="#800000" stroke-width="2.0" stroke-linejoin="round"/>
<polygon points="1054.90,242.32 1059.42,251.14 1050.38,251.14" fill="#800000"/>
<polygon points="1174.70,147.77 1179.22,156.59 1170.18,156.59" fill="#800000"/>
<polygon points="1294.50,175.64 1299.02,184.46 1289.98,184.46" fill="#800000"/>
<polygon points="1414.30,444.30 1418.82,453.12 1409.78,453.12" fill="#800000"/>
<polygon points="1534.10,180.76 1538.62,189.58 1529.58,189.58" fill="#800000"/>
<polygon points="1653.90,219.21 1658.42,228.03 1649.38,228.03" fill="#800000"/>
<polyline points="1054.90,301.06 1174.70,191.16 1294.50,227.68 1414.30,591.06 1534.10,235.62 1653.90,297.53" fill="none" stroke="#FF8000" stroke-width="2.0" stroke-linejoin="round"/>
<polygon points="1054.90,305.47 1059.42,296.65 1050.38,296.65" fill="#FF8000"/>
<polygon points="1174.70,195.57 1179.22,186.75 1170.18,186.75" fill="#FF8000"/>
<polygon points="1294.50,232.09 1299.02,223.27 1289.98,223.27" fill="#FF8000"/>
<polygon points="1414.30,595.47 1418.82,586.65 1409.78,586.65" fill="#FF8000"/>
<polygon points="1534.10,240.03 1538.62,231.21 1529.58,231.21" fill="#FF8000"/>
<polygon points="1653.90,301.94 1658.42,293.12 1649.38,293.12" fill="#FF8000"/>
<polyline points="1054.90,287.65 1174.70,208.98 1294.50,259.43 1414.30,684.55 1534.10,296.83 1653.90,365.27" fill="none" stroke="#808000" stroke-width="2.0" stroke-linejoin="round"/>
<polygon points="1054.90,282.72 1059.31,287.65 1054.90,292.59 1050.49,287.65" fill="#808000"/>
<polygon points="1174.70,204.04 1179.11,208.98 1174.70,213.91 1170.29,208.98" fill="#808000"/>
<polygon points="1294.50,254.49 1298.91,259.43 1294.50,264.36 1290.09,259.43" fill="#808000"/>
<polygon points="1414.30,679.62 1418.71,684.55 1414.30,689.49 1409.89,684.55" fill="#808000"/>
<polygon points="1534.10,291.89 1538.51,296.83 1534.10,301.76 1529.69,296.83" fill="#808000"/>
<polygon points="1653.90,360.33 1658.31,365.27 1653.90,370.20 1649.49,365.27" fill="#808000"/>
<polyline points="1054.90,260.49 1174.70,140.54 1294.50,197.34 1414.30,586.48 1534.10,252.73 1653.90,306.00" fill="none" stroke="#8000FF" stroke-width="2.0" stroke-linejoin="round"/>
<polygon points="1050.91,260.49 1058.89,255.24 1058.89,265.74" fill="#8000FF"/>
<polygon points="1170.71,140.54 1178.69,135.29 1178.69,145.79" fill="#8000FF"/>
<polygon points="1290.51,197.34 1298.49,192.09 1298.49,202.59" fill="#8000FF"/>
<polygon points="1410.31,586.48 1418.29,581.23 1418.29,591.73" fill="#8000FF"/>
<polygon points="1530.11,252.73 1538.09,247.48 1538.09,257.98" fill="#8000FF"/>
<polygon points="1649.91,306.00 1657.89,300.75 1657.89,311.25" fill="#8000FF"/>
<polyline points="1054.90,261.19 1174.70,136.48 1294.50,204.39 1414.30,596.88 1534.10,247.43 1653.90,311.64" fill="none" stroke="#FF0000" stroke-width="2.0" stroke-linejoin="round"/>
<polygon points="1058.89,261.19 1050.91,255.94 1050.91,266.44" fill="#FF0000"/>
<polygon points="1178.69,136.48 1170.71,131.23 1170.71,141.73" fill="#FF0000"/>
<polygon points="1298.49,204.39 1290.51,199.14 1290.51,209.64" fill="#FF0000"/>
<polygon points="1418.29,596.88 1410.31,591.63 1410.31,602.13" fill="#FF0000"/>
<polygon points="1538.09,247.43 1530.11,242.18 1530.11,252.68" fill="#FF0000"/>
<polygon points="1657.89,311.64 1649.91,306.39 1649.91,316.89" fill="#FF0000"/>
<polyline points="1054.90,304.24 1174.70,182.34 1294.50,242.85 1414.30,654.04 1534.10,236.67 1653.90,265.07" fill="none" stroke="#008000" stroke-width="2.0" stroke-linejoin="round"/>
<ellipse cx="1054.90" cy="304.24" rx="3.99" ry="4.51" fill="url(#gball_008000)"/>
<ellipse cx="1174.70" cy="182.34" rx="3.99" ry="4.51" fill="url(#gball_008000)"/>
<ellipse cx="1294.50" cy="242.85" rx="3.99" ry="4.51" fill="url(#gball_008000)"/>
<ellipse cx="1414.30" cy="654.04" rx="3.99" ry="4.51" fill="url(#gball_008000)"/>
<ellipse cx="1534.10" cy="236.67" rx="3.99" ry="4.51" fill="url(#gball_008000)"/>
<ellipse cx="1653.90" cy="265.07" rx="3.99" ry="4.51" fill="url(#gball_008000)"/>
<polyline points="1054.90,297.53 1174.70,167.35 1294.50,270.37 1414.30,702.55 1534.10,282.89 1653.90,369.86" fill="none" stroke="#FF00FF" stroke-width="2.0" stroke-linejoin="round"/>
<polygon points="1058.81,300.05 1054.90,302.57 1050.99,300.05 1050.99,295.01 1054.90,292.49 1058.81,295.01" fill="#FF00FF"/>
<polygon points="1178.61,169.87 1174.70,172.39 1170.79,169.87 1170.79,164.83 1174.70,162.31 1178.61,164.83" fill="#FF00FF"/>
<polygon points="1298.41,272.89 1294.50,275.41 1290.59,272.89 1290.59,267.85 1294.50,265.33 1298.41,267.85" fill="#FF00FF"/>
<polygon points="1418.21,705.07 1414.30,707.59 1410.39,705.07 1410.39,700.03 1414.30,697.51 1418.21,700.03" fill="#FF00FF"/>
<polygon points="1538.01,285.41 1534.10,287.93 1530.19,285.41 1530.19,280.37 1534.10,277.85 1538.01,280.37" fill="#FF00FF"/>
<polygon points="1657.81,372.38 1653.90,374.90 1649.99,372.38 1649.99,367.34 1653.90,364.82 1657.81,367.34" fill="#FF00FF"/>
<line x1="1080.7" y1="38.6" x2="1133.7" y2="38.6" stroke="#000000" stroke-width="2.5"/>
<rect x="1103.63" y="34.55" width="7.34" height="8.10" fill="#000000"/>
<text x="1132.87" y="46.60" font-size="24" textLength="40.11" lengthAdjust="spacingAndGlyphs" fill="#000">30m</text>
<line x1="1184.4" y1="38.6" x2="1237.4" y2="38.6" stroke="#0000FF" stroke-width="2.5"/>
<ellipse cx="1211.00" cy="38.60" rx="4.21" ry="4.75" fill="#0000FF"/>
<text x="1236.57" y="46.60" font-size="24" textLength="40.11" lengthAdjust="spacingAndGlyphs" fill="#000">35m</text>
<line x1="1304.4" y1="38.6" x2="1357.4" y2="38.6" stroke="#800000" stroke-width="2.5"/>
<polygon points="1331.00,34.06 1335.64,43.14 1326.36,43.14" fill="#800000"/>
<text x="1357.25" y="46.60" font-size="24" textLength="40.11" lengthAdjust="spacingAndGlyphs" fill="#000">40m</text>
<line x1="1407.3" y1="38.6" x2="1460.3" y2="38.6" stroke="#FF8000" stroke-width="2.5"/>
<polygon points="1433.90,43.14 1438.54,34.06 1429.26,34.06" fill="#FF8000"/>
<text x="1460.15" y="46.60" font-size="24" textLength="40.11" lengthAdjust="spacingAndGlyphs" fill="#000">45m</text>
<line x1="1080.7" y1="70.0" x2="1133.7" y2="70.0" stroke="#808000" stroke-width="2.5"/>
<polygon points="1107.30,64.92 1111.84,70.00 1107.30,75.08 1102.76,70.00" fill="#808000"/>
<text x="1132.65" y="78.00" font-size="24" textLength="40.11" lengthAdjust="spacingAndGlyphs" fill="#000">50m</text>
<line x1="1184.4" y1="70.0" x2="1237.4" y2="70.0" stroke="#8000FF" stroke-width="2.5"/>
<polygon points="1206.90,70.00 1215.10,64.60 1215.10,75.40" fill="#8000FF"/>
<text x="1236.35" y="78.00" font-size="24" textLength="40.11" lengthAdjust="spacingAndGlyphs" fill="#000">55m</text>
<line x1="1304.4" y1="70.0" x2="1357.4" y2="70.0" stroke="#FF0000" stroke-width="2.5"/>
<polygon points="1335.10,70.00 1326.90,64.60 1326.90,75.40" fill="#FF0000"/>
<text x="1356.68" y="78.00" font-size="24" textLength="40.11" lengthAdjust="spacingAndGlyphs" fill="#000">60m</text>
<line x1="1407.3" y1="70.0" x2="1460.3" y2="70.0" stroke="#008000" stroke-width="2.5"/>
<ellipse cx="1433.90" cy="70.00" rx="4.10" ry="4.64" fill="url(#gball_008000)"/>
<text x="1459.58" y="78.00" font-size="24" textLength="40.11" lengthAdjust="spacingAndGlyphs" fill="#000">65m</text>
<line x1="1510.2" y1="70.0" x2="1563.2" y2="70.0" stroke="#FF00FF" stroke-width="2.5"/>
<polygon points="1540.82,72.59 1536.80,75.18 1532.78,72.59 1532.78,67.41 1536.80,64.82 1540.82,67.41" fill="#FF00FF"/>
<text x="1562.48" y="78.00" font-size="24" textLength="40.11" lengthAdjust="spacingAndGlyphs" fill="#000">68m</text>
<text transform="translate(948.7,459.5) scale(0.89,1) rotate(-90)" font-size="24.5" font-weight="bold" textLength="193.0" lengthAdjust="spacingAndGlyphs">Stress value / MPa</text>
<text x="1402.83" y="790.60" font-size="33.6" textLength="43.30" lengthAdjust="spacingAndGlyphs" fill="#000">(b)</text>
</svg>
</body></html>
